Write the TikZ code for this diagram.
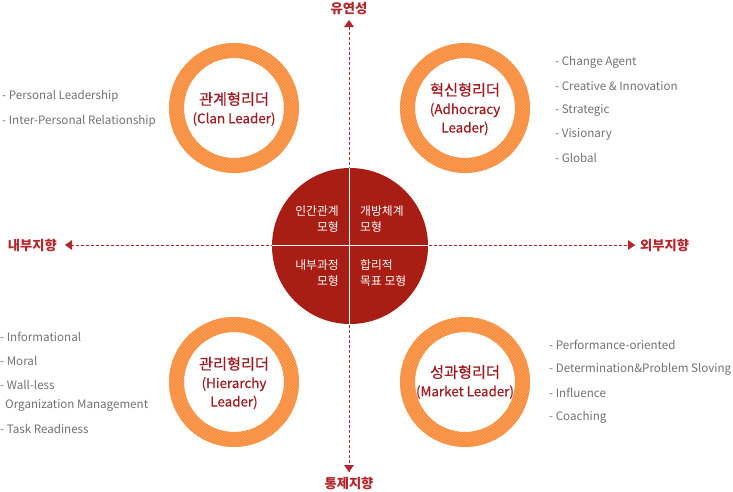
\documentclass[tikz,border=0pt]{standalone}
\usepackage{fontspec}
\setmainfont{Noto Sans CJK KR}
\newfontfamily\ringfont{Noto Sans CJK KR}[FakeBold=0.5]
\usetikzlibrary{arrows.meta,patterns}
\definecolor{cred}{HTML}{A81E14}
\definecolor{axred}{HTML}{B3262B}
\definecolor{ringtxt}{HTML}{9E1C22}
\definecolor{gtxt}{HTML}{727272}
\definecolor{rorange}{HTML}{F78B3B}
\definecolor{rstripe}{HTML}{FBA663}
\newcommand{\eng}{\fontsize{13.4}{18.5}\selectfont}
\tikzset{
  axis/.style={axred, line width=0.9pt, dash pattern=on 3pt off 2pt},
  axlabel/.style={text=axred, font=\fontsize{13.3}{15}\selectfont\bfseries, inner sep=0pt},
  ringlabel/.style={text=ringtxt, font=\ringfont\fontsize{15.2}{18.5}\selectfont, align=center, inner sep=0pt},
  ctext/.style={text=white, font=\fontsize{11.8}{15.5}\selectfont, inner sep=0pt},
  listtxt/.style={text=gtxt, font=\fontsize{11.6}{14}\selectfont, anchor=west, inner sep=0pt},
}
\newcommand{\ring}[2]{%
  \fill[rorange, even odd rule] (#1,#2) circle (65) (#1,#2) circle (50);
  \fill[pattern=north east lines, pattern color=rstripe, even odd rule] (#1,#2) circle (65) (#1,#2) circle (50);
}
\begin{document}
\begin{tikzpicture}[x=1pt,y=-1pt]
\useasboundingbox[fill=white] (0,0) rectangle (733,491);
% axes
\coordinate (top) at (349,20);
\coordinate (bot) at (349,472);
\coordinate (lft) at (65,245);
\coordinate (rgt) at (635,245);
\coordinate (c) at (349,245);
\draw[axis] (c) -- (top);
\draw[axis] (c) -- (bot);
\draw[axis] (c) -- (lft);
\draw[axis] (c) -- (rgt);
\fill[axred] (top) -- ++(-5,7) -- ++(10,0) -- cycle;
\fill[axred] (bot) -- ++(-5,-7) -- ++(10,0) -- cycle;
\fill[axred] (lft) -- ++(7,-5) -- ++(0,10) -- cycle;
\fill[axred] (rgt) -- ++(-7,-5) -- ++(0,10) -- cycle;
\node[axlabel] (tl) at (349,9) {유연성};
\node[axlabel] (bl) at (349,483) {통제지향};
\node[axlabel, anchor=east] (ll) at (57,245) {내부지향};
\node[axlabel, anchor=west] (rl) at (640,245) {외부지향};
% rings
\ring{234}{108}
\ring{465}{108}
\ring{234}{382}
\ring{465}{382}
\node[ringlabel] (r1) at (234,109) {관계형리더\\{\eng (Clan Leader)}};
\node[ringlabel] (r2) at (465,109) {혁신형리더\\{\eng (Adhocracy}\\{\eng Leader)}};
\node[ringlabel] (r3) at (234,383) {관리형리더\\{\eng (Hierarchy}\\{\eng Leader)}};
\node[ringlabel] (r4) at (465,382) {성과형리더\\{\eng (Market Leader)}};
% center circle
\fill[cred] (350,246) circle (78);
\draw[white, line width=1pt] (349,168) -- (349,324);
\draw[white, line width=1pt] (272,245) -- (428,245);
\node[ctext, align=right, anchor=east] (q1) at (339,219) {인간관계\\모형};
\node[ctext, align=left, anchor=west] (q2) at (360,219) {개방체계\\모형};
\node[ctext, align=right, anchor=east] (q3) at (339,273) {내부과정\\모형};
\node[ctext, align=left, anchor=west] (q4) at (360,273) {합리적\\목표 모형};
% lists
\node[listtxt] (a1) at (2,96) {- Personal Leadership};
\node[listtxt] (a2) at (2,121) {- Inter-Personal Relationship};
\node[listtxt] (b1) at (555,62) {- Change Agent};
\node[listtxt] (b2) at (555,86) {- Creative \& Innovation};
\node[listtxt] (b3) at (555,110) {- Strategic};
\node[listtxt] (b4) at (555,134) {- Visionary};
\node[listtxt] (b5) at (555,158) {- Global};
\node[listtxt] (c1) at (0,337) {- Informational};
\node[listtxt] (c2) at (0,361) {- Moral};
\node[listtxt] (c3) at (0,385) {- Wall-less};
\node[listtxt] (c4) at (5,405) {Organization Management};
\node[listtxt] (c5) at (0,429) {- Task Readiness};
\node[listtxt] (d1) at (549,345) {- Performance-oriented};
\node[listtxt] (d2) at (549,369) {- Determination\&Problem Sloving};
\node[listtxt] (d3) at (549,393) {- Influence};
\node[listtxt] (d4) at (549,417) {- Coaching};
\end{tikzpicture}
\end{document}
